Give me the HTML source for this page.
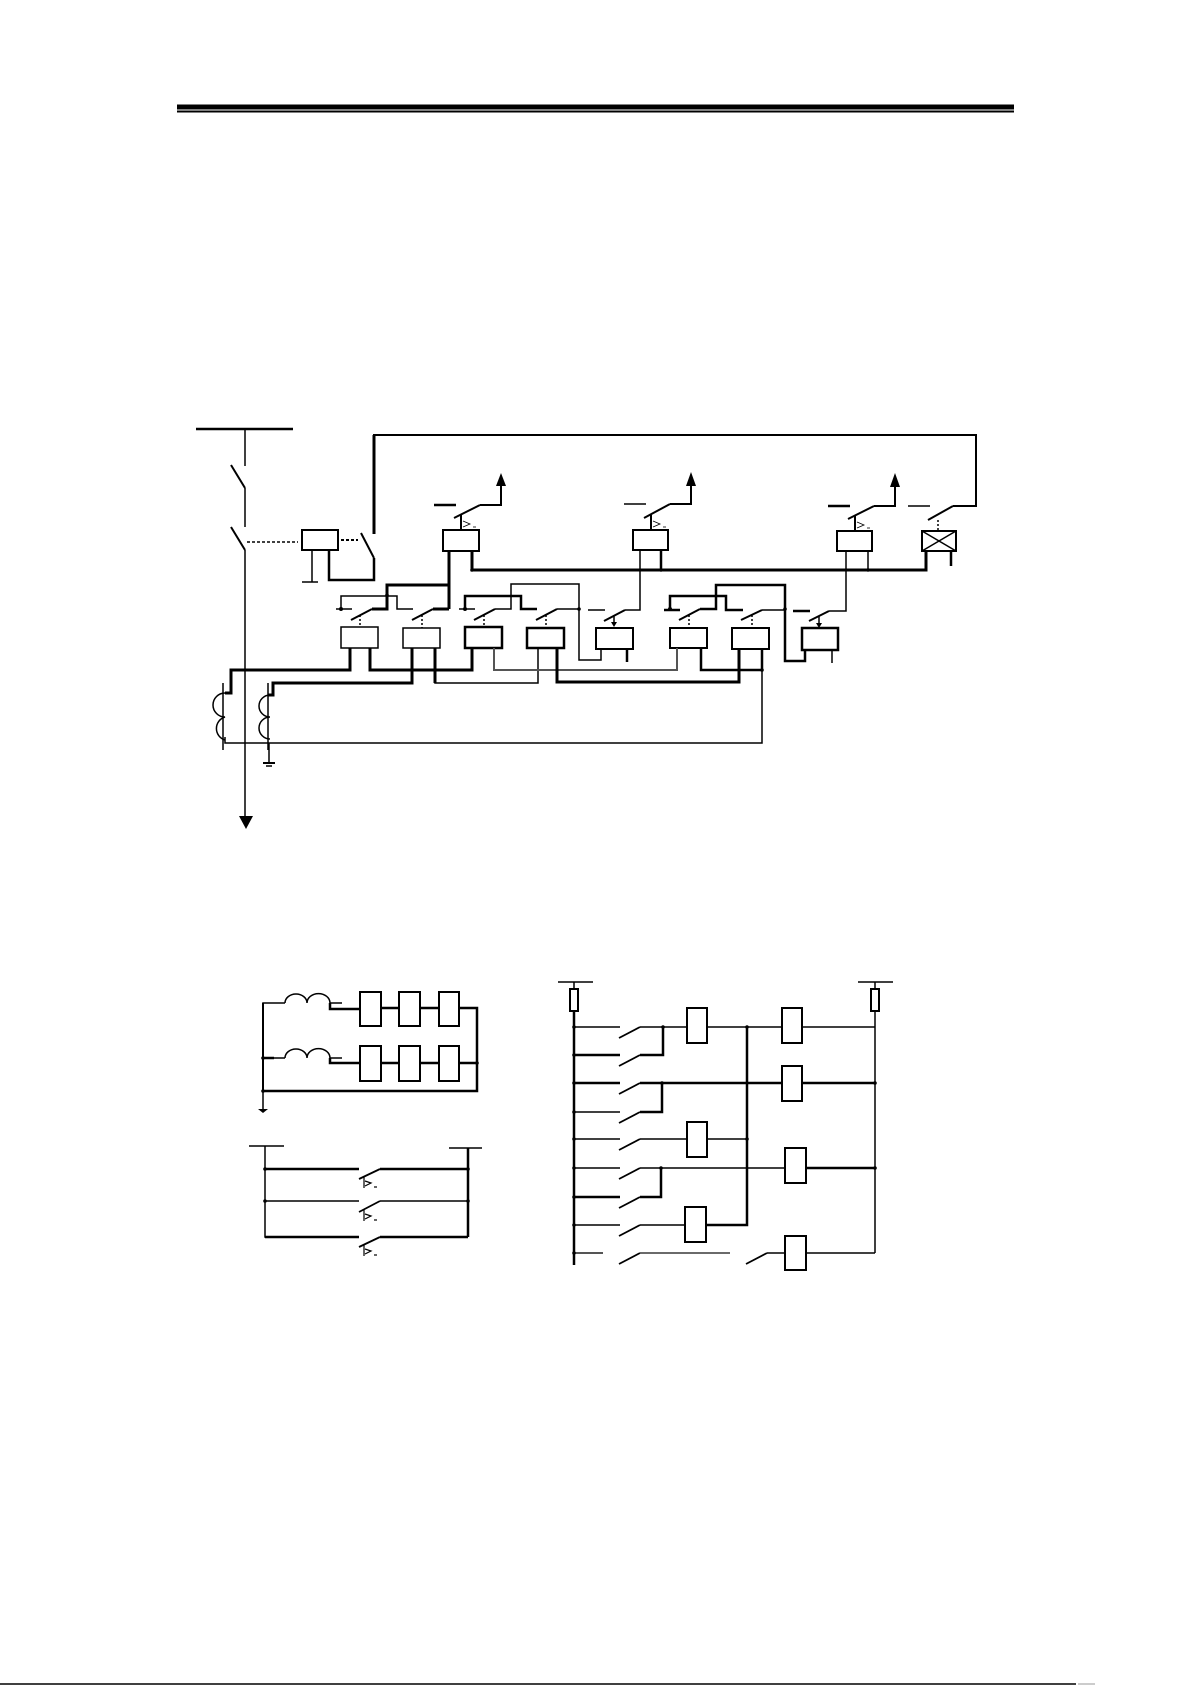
<!DOCTYPE html>
<html><head><meta charset="utf-8"><style>html,body{margin:0;padding:0;background:#fff}svg{display:block}</style></head>
<body>
<svg width="1192" height="1685" viewBox="0 0 1192 1685" xmlns="http://www.w3.org/2000/svg" fill="none" stroke="#000" stroke-width="1.5">
<!-- header -->
<rect x="177" y="104.5" width="837" height="5" fill="#000" stroke="none"/>
<rect x="177" y="110.5" width="837" height="2" fill="#000" stroke="none"/>
<line x1="0" y1="1684" x2="1076" y2="1684" stroke-width="1.5"/>
<line x1="1078" y1="1684" x2="1095" y2="1684" stroke="#bbb" stroke-width="1.5"/>

<!-- ===== top diagram ===== -->
<line x1="196" y1="429" x2="293" y2="429" stroke-width="2.5"/>
<line x1="245" y1="429" x2="245" y2="466"/>
<line x1="231" y1="465" x2="245" y2="488" stroke-width="2"/>
<line x1="245" y1="488" x2="245" y2="527"/>
<line x1="231" y1="527" x2="245" y2="550" stroke-width="2"/>
<line x1="245" y1="550" x2="245" y2="817"/>
<polygon points="239,816 253,816 246,829" fill="#000" stroke="none"/>
<line x1="247" y1="542" x2="298" y2="542" stroke-dasharray="3,2"/>
<rect x="302" y="530" width="36" height="20" stroke-width="2"/>
<line x1="341" y1="540" x2="358" y2="540" stroke-dasharray="3,2" stroke-width="2"/>
<line x1="361" y1="533" x2="374" y2="558" stroke-width="2"/>
<polyline points="374,558 374,580 329,580 329,550" stroke-width="2.5"/>
<line x1="312" y1="550" x2="312" y2="582"/>
<line x1="302" y1="582" x2="318" y2="582"/>
<polyline points="374,534 374,435 976,435 976,506 953,506" stroke-width="2"/>
<line x1="374" y1="534" x2="374" y2="435" stroke-width="3"/>
<line x1="928" y1="520" x2="953" y2="506" stroke-width="2"/>
<line x1="908" y1="506" x2="930" y2="506"/>
<line x1="938" y1="520" x2="938" y2="531" stroke-dasharray="2,2"/>
<rect x="922" y="531" width="34" height="20" stroke-width="2"/>
<line x1="922" y1="531" x2="956" y2="551"/><line x1="956" y1="531" x2="922" y2="551"/>
<line x1="951" y1="551" x2="951" y2="566" stroke-width="2.5"/>
<polyline points="472,551 472,570 926,570 926,551" stroke-width="3"/>

<rect x="443" y="530" width="36" height="21" stroke-width="2"/>
<line x1="434" y1="505" x2="456" y2="505" stroke-width="2.5"/>
<line x1="454" y1="518" x2="480" y2="505" stroke-width="2"/>
<polyline points="480,505 501,505 501,485" stroke-width="2"/>
<polygon points="496,486 506,486 501,473" fill="#000" stroke="none"/>
<line x1="461" y1="515" x2="461" y2="530" stroke-width="2"/>
<polyline points="463,521 470,524 463,527" stroke-width="0.8"/><line x1="473" y1="527" x2="476" y2="527" stroke-width="0.8"/>
<line x1="449" y1="551" x2="449" y2="609" stroke-width="3"/>
<rect x="633" y="530" width="35" height="20" stroke-width="2"/>
<line x1="624" y1="504" x2="646" y2="504"/>
<line x1="644" y1="518" x2="670" y2="504" stroke-width="2"/>
<polyline points="670,504 691,504 691,485" stroke-width="2"/>
<polygon points="686,486 696,486 691,472" fill="#000" stroke="none"/>
<line x1="651" y1="515" x2="651" y2="530" stroke-width="2"/>
<polyline points="653,521 660,524 653,527" stroke-width="0.8"/><line x1="663" y1="527" x2="666" y2="527" stroke-width="0.8"/>
<line x1="661" y1="550" x2="661" y2="570" stroke-width="2.5"/>
<polyline points="640,550 640,610 625,610"/>
<rect x="837" y="531" width="35" height="20" stroke-width="2"/>
<line x1="828" y1="506" x2="850" y2="506" stroke-width="2.5"/>
<line x1="848" y1="519" x2="874" y2="506" stroke-width="2"/>
<polyline points="874,506 895,506 895,486" stroke-width="2"/>
<polygon points="890,487 900,487 895,473" fill="#000" stroke="none"/>
<line x1="855" y1="516" x2="855" y2="531" stroke-width="2"/>
<polyline points="857,522 864,525 857,528" stroke-width="0.8"/><line x1="867" y1="528" x2="870" y2="528" stroke-width="0.8"/>
<line x1="868" y1="551" x2="868" y2="570"/>
<polyline points="846,551 846,611 829,611"/>

<rect x="341" y="627" width="37" height="21"/>
<rect x="403" y="628" width="37" height="20"/>
<rect x="465" y="627" width="37" height="21" stroke-width="2.5"/>
<rect x="527" y="628" width="37" height="20" stroke-width="2.5"/>
<rect x="596" y="628" width="37" height="21" stroke-width="2"/>
<rect x="670" y="628" width="37" height="20" stroke-width="2"/>
<rect x="732" y="628" width="37" height="21" stroke-width="2"/>
<rect x="802" y="628" width="36" height="22" stroke-width="2.5"/>

<g stroke-width="2">
<line x1="351" y1="620" x2="372" y2="609"/>
<line x1="412" y1="620" x2="433" y2="609"/>
<line x1="474" y1="620" x2="495" y2="609"/>
<line x1="536" y1="620" x2="557" y2="609"/>
<line x1="604" y1="621" x2="625" y2="610"/>
<line x1="679" y1="620" x2="700" y2="609"/>
<line x1="741" y1="620" x2="762" y2="610"/>
<line x1="809" y1="621" x2="829" y2="611"/>
</g>
<g stroke-dasharray="2,2" stroke-width="1.5">
<line x1="360" y1="615" x2="360" y2="627"/>
<line x1="422" y1="615" x2="422" y2="628"/>
<line x1="484" y1="615" x2="484" y2="627"/>
<line x1="546" y1="615" x2="546" y2="628"/>
<line x1="689" y1="615" x2="689" y2="628"/>
<line x1="752" y1="615" x2="752" y2="628"/>
</g>
<line x1="614" y1="615" x2="614" y2="625"/><polygon points="611,622 617,622 614,627" fill="#000" stroke="none"/>
<line x1="819" y1="616" x2="819" y2="626"/><polygon points="816,623 822,623 819,628" fill="#000" stroke="none"/>
<line x1="336" y1="609" x2="352" y2="609"/>
<line x1="459" y1="609" x2="475" y2="609"/>
<line x1="588" y1="610" x2="605" y2="610"/>
<line x1="664" y1="610" x2="680" y2="610" stroke-width="2.5"/>
<line x1="793" y1="611" x2="810" y2="611" stroke-width="2.5"/>
<g fill="#000" stroke="none">
<circle cx="341" cy="609" r="2"/><circle cx="387" cy="595" r="1.8"/><circle cx="465" cy="609" r="2"/>
<circle cx="579" cy="609" r="1.8"/><circle cx="670" cy="609" r="2"/><circle cx="785" cy="609" r="1.8"/>
<circle cx="472" cy="570" r="1.8"/><circle cx="661" cy="570" r="1.8"/><circle cx="868" cy="570" r="1.8"/>
<circle cx="762" cy="670" r="1.8"/>
</g>
<polyline points="341,609 341,596 397,596 397,609 413,609"/>
<polyline points="372,609 387,609 387,585 449,585" stroke-width="3"/>
<line x1="433" y1="609" x2="449" y2="609" stroke-width="3"/>
<polyline points="465,609 465,596 521,596 521,609 537,609" stroke-width="2.5"/>
<polyline points="495,609 511,609 511,584 579,584 579,660 601,660 601,649"/>
<line x1="557" y1="609" x2="579" y2="609"/>
<polyline points="670,609 670,596 726,596 726,610 743,610" stroke-width="2.5"/>
<polyline points="700,609 716,609 716,585 785,585 785,661 805,661 805,650" stroke-width="2.5"/>
<line x1="762" y1="610" x2="785" y2="610"/>
<line x1="627" y1="649" x2="627" y2="662" stroke-width="2.5"/>
<line x1="832" y1="651" x2="832" y2="663"/>
<polyline points="350,648 350,670 231,670 231,693 225,693" stroke-width="3"/>
<polyline points="412,648 412,683 273,683 273,695 268,695" stroke-width="3"/>
<polyline points="370,648 370,670 472,670 472,648" stroke-width="3"/>
<polyline points="435,648 435,683 538,683 538,648"/>
<polyline points="435,648 435,683" stroke-width="3"/>
<polyline points="494,648 494,670 677,670 677,648" stroke="#555" stroke-width="2"/>
<polyline points="557,648 557,682 739,682 739,649" stroke-width="3"/>
<polyline points="701,648 701,670 762,670 762,649" stroke-width="2.5"/>
<polyline points="762,670 762,743 225,743 225,737"/>
<line x1="223" y1="683" x2="223" y2="750"/>
<path d="M225,693 A12,12 0 0 0 225,717 A12,12 0 0 0 225,740"/>
<line x1="268" y1="683" x2="268" y2="750"/>
<path d="M270,695 A11,11 0 0 0 270,717 A11,11 0 0 0 270,739"/>
<line x1="269" y1="743" x2="269" y2="762"/>
<line x1="263" y1="763" x2="275" y2="763" stroke-width="2"/>
<line x1="266" y1="766" x2="272" y2="766"/>

<!-- bottom-left -->
<polyline points="273,1003 263,1003 263,1110" stroke-width="1.5"/>
<line x1="263" y1="1003" x2="263" y2="1092" stroke-width="2"/>
<polygon points="258,1109 268,1109 263,1113" fill="#000" stroke="none"/>
<path d="M285,1003 A11,9 0 0 1 307,1003 A11,9 0 0 1 330,1003"/>
<line x1="285" y1="1003" x2="273" y2="1003"/>
<line x1="330" y1="1003" x2="342" y2="1003"/>
<polyline points="330,1003 330,1009 360,1009" stroke-width="2.5"/>
<path d="M285,1058 A11,9 0 0 1 307,1058 A11,9 0 0 1 330,1058"/>
<line x1="263" y1="1058" x2="274" y2="1058" stroke-width="2.5"/>
<line x1="274" y1="1058" x2="285" y2="1058"/>
<line x1="330" y1="1058" x2="342" y2="1058"/>
<polyline points="330,1058 330,1063 360,1063" stroke-width="2.5"/>
<g stroke-width="2">
<rect x="360" y="992" width="21" height="34"/><rect x="399" y="992" width="21" height="34"/><rect x="439" y="992" width="20" height="34"/>
<rect x="360" y="1046" width="21" height="35"/><rect x="399" y="1046" width="21" height="35"/><rect x="439" y="1046" width="20" height="35"/>
</g>
<g stroke-width="2.5">
<line x1="381" y1="1008" x2="399" y2="1008"/><line x1="420" y1="1008" x2="439" y2="1008"/>
<polyline points="459,1008 477,1008 477,1091 263,1091"/>
<line x1="381" y1="1063" x2="399" y2="1063"/><line x1="420" y1="1063" x2="439" y2="1063"/><line x1="459" y1="1063" x2="477" y2="1063"/>
</g>
<g fill="#000" stroke="none"><circle cx="263" cy="1058" r="1.8"/><circle cx="263" cy="1091" r="1.8"/><circle cx="477" cy="1063" r="1.8"/></g>

<line x1="249" y1="1146" x2="284" y2="1146"/>
<line x1="449" y1="1148" x2="482" y2="1148"/>
<polyline points="265,1146 265,1237 359,1237" stroke-width="1.5"/>
<line x1="265" y1="1237" x2="359" y2="1237" stroke-width="2.5"/>
<line x1="468" y1="1148" x2="468" y2="1237" stroke-width="2.5"/>
<line x1="265" y1="1169" x2="359" y2="1169" stroke-width="2.5"/>
<line x1="380" y1="1169" x2="468" y2="1169" stroke-width="2.5"/>
<line x1="265" y1="1201" x2="359" y2="1201"/>
<line x1="380" y1="1201" x2="468" y2="1201"/>
<line x1="380" y1="1237" x2="468" y2="1237" stroke-width="2.5"/>
<g stroke-width="1.8">
<line x1="359" y1="1179" x2="380" y2="1169"/><line x1="359" y1="1212" x2="380" y2="1201"/><line x1="359" y1="1247" x2="380" y2="1237"/>
</g>
<g stroke-width="1.2">
<line x1="364" y1="1176" x2="364" y2="1188"/><polyline points="365,1181 371,1183 365,1186"/><line x1="374" y1="1187" x2="377" y2="1187"/>
<line x1="364" y1="1209" x2="364" y2="1221"/><polyline points="365,1214 371,1216 365,1219"/><line x1="374" y1="1220" x2="377" y2="1220"/>
<line x1="364" y1="1244" x2="364" y2="1256"/><polyline points="365,1249 371,1251 365,1254"/><line x1="374" y1="1255" x2="377" y2="1255"/>
</g>
<g fill="#000" stroke="none"><circle cx="265" cy="1169" r="1.8"/><circle cx="265" cy="1201" r="1.8"/><circle cx="468" cy="1169" r="1.8"/><circle cx="468" cy="1201" r="1.8"/></g>

<!-- bottom-right -->
<line x1="558" y1="982" x2="593" y2="982"/>
<line x1="858" y1="982" x2="893" y2="982"/>
<line x1="574" y1="982" x2="574" y2="989"/>
<rect x="570" y="989" width="8" height="22" stroke-width="2"/>
<line x1="574" y1="1011" x2="574" y2="1265" stroke-width="2.5"/>
<line x1="875" y1="982" x2="875" y2="989"/>
<rect x="871" y="989" width="8" height="22" stroke-width="2"/>
<line x1="875" y1="1011" x2="875" y2="1253"/>
<g>
<line x1="574" y1="1027" x2="620" y2="1027"/>
<line x1="574" y1="1055" x2="620" y2="1055" stroke-width="2.5"/>
<line x1="574" y1="1083" x2="620" y2="1083" stroke-width="2.5"/>
<line x1="574" y1="1112" x2="620" y2="1112"/>
<line x1="574" y1="1139" x2="620" y2="1139"/>
<line x1="574" y1="1168" x2="620" y2="1168"/>
<line x1="574" y1="1197" x2="620" y2="1197" stroke-width="2.5"/>
<line x1="574" y1="1225" x2="620" y2="1225"/>
<line x1="574" y1="1253" x2="603" y2="1253" stroke="#555" stroke-width="2"/>
</g>
<g stroke-width="1.8">
<line x1="619" y1="1038" x2="640" y2="1027"/><line x1="619" y1="1066" x2="640" y2="1055"/>
<line x1="619" y1="1094" x2="640" y2="1083"/><line x1="619" y1="1123" x2="640" y2="1112"/>
<line x1="619" y1="1150" x2="640" y2="1139"/><line x1="619" y1="1179" x2="640" y2="1168"/>
<line x1="619" y1="1208" x2="640" y2="1197"/><line x1="619" y1="1236" x2="640" y2="1225"/>
<line x1="619" y1="1264" x2="640" y2="1253"/><line x1="746" y1="1264" x2="767" y2="1253"/>
</g>
<g stroke-width="2">
<rect x="687" y="1008" width="20" height="35"/><rect x="782" y="1008" width="20" height="35"/>
<rect x="782" y="1066" width="20" height="35"/><rect x="687" y="1122" width="20" height="35"/>
<rect x="785" y="1148" width="21" height="35"/><rect x="685" y="1207" width="21" height="35"/>
<rect x="785" y="1236" width="21" height="34"/>
</g>
<line x1="640" y1="1027" x2="687" y2="1027"/>
<line x1="707" y1="1027" x2="782" y2="1027"/>
<line x1="802" y1="1027" x2="875" y2="1027"/>
<polyline points="640,1055 663,1055 663,1027" stroke-width="2.5"/>
<line x1="640" y1="1083" x2="782" y2="1083" stroke-width="2.5"/>
<line x1="802" y1="1083" x2="875" y2="1083" stroke-width="2.5"/>
<polyline points="640,1112 662,1112 662,1083" stroke-width="2.5"/>
<line x1="640" y1="1139" x2="687" y2="1139"/>
<line x1="707" y1="1139" x2="747" y2="1139"/>
<line x1="640" y1="1168" x2="785" y2="1168"/>
<line x1="806" y1="1168" x2="875" y2="1168" stroke-width="2.5"/>
<polyline points="640,1197 661,1197 661,1168" stroke-width="2.5"/>
<line x1="640" y1="1225" x2="685" y2="1225"/>
<polyline points="706,1225 747,1225 747,1027" stroke-width="2.5"/>
<line x1="640" y1="1253" x2="730" y2="1253" stroke="#555" stroke-width="1.8"/>
<line x1="767" y1="1253" x2="785" y2="1253"/>
<line x1="806" y1="1253" x2="875" y2="1253"/>
<g fill="#000" stroke="none">
<circle cx="574" cy="1027" r="1.8"/><circle cx="574" cy="1055" r="1.8"/><circle cx="574" cy="1083" r="1.8"/>
<circle cx="574" cy="1112" r="1.8"/><circle cx="574" cy="1139" r="1.8"/><circle cx="574" cy="1168" r="1.8"/>
<circle cx="574" cy="1197" r="1.8"/><circle cx="574" cy="1225" r="1.8"/><circle cx="574" cy="1253" r="1.8"/>
<circle cx="663" cy="1027" r="1.8"/><circle cx="662" cy="1083" r="1.8"/><circle cx="661" cy="1168" r="1.8"/>
<circle cx="747" cy="1027" r="1.8"/><circle cx="747" cy="1139" r="1.8"/>
<circle cx="875" cy="1083" r="1.8"/><circle cx="875" cy="1168" r="1.8"/>
</g>
</svg>
</body></html>
